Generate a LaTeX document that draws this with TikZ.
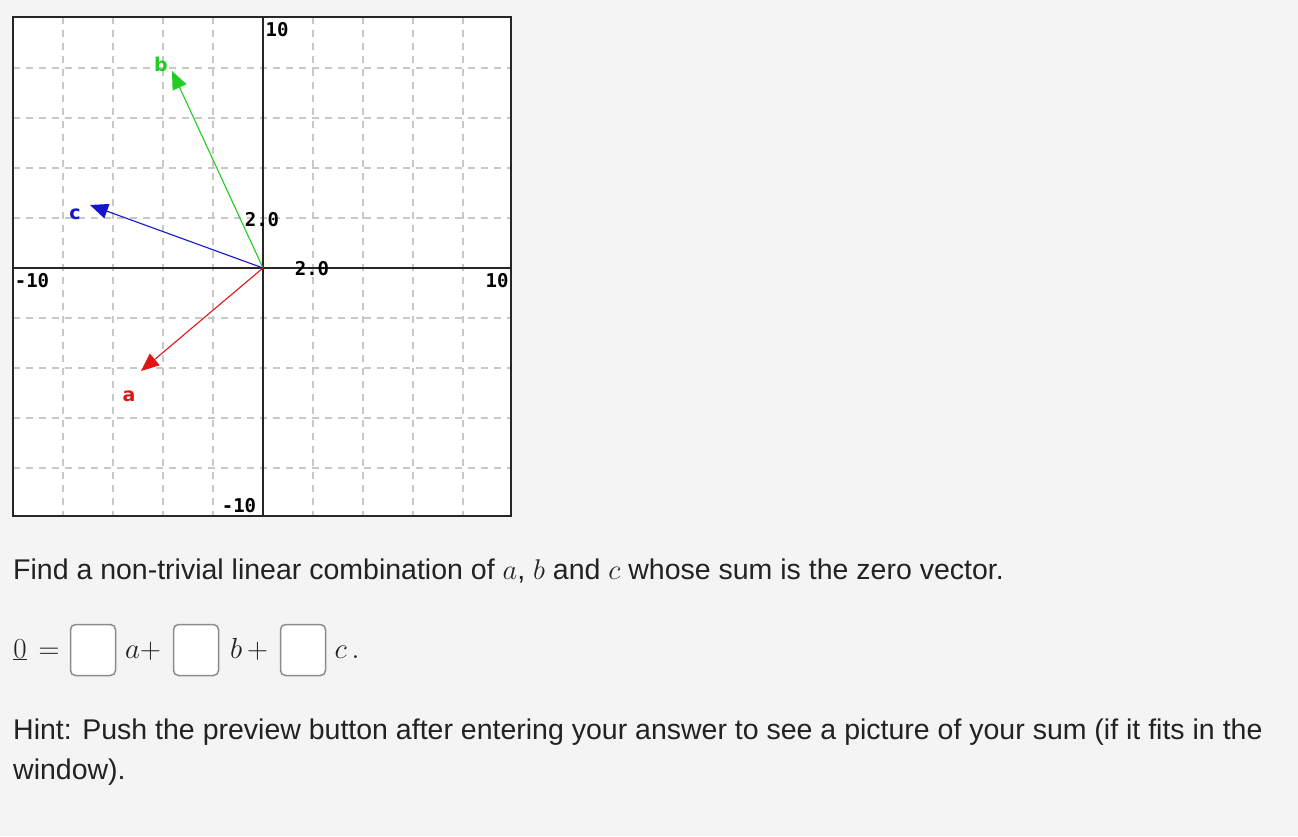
\RequirePackage{fix-cm}
\documentclass[tikz,border=0pt]{standalone}
\usepackage[no-math]{fontspec}
\setmainfont{Liberation Sans}
\newfontfamily\plotfont{DejaVu Sans Mono}
\newfontfamily\labfont{DejaVu Sans}
\usetikzlibrary{arrows.meta}
\definecolor{bgcol}{HTML}{F4F4F4}
\definecolor{gridcol}{HTML}{C8C8C8}
\definecolor{txtcol}{HTML}{222222}
\definecolor{vecgreen}{HTML}{22CC22}
\definecolor{vecblue}{HTML}{1515D0}
\definecolor{vecred}{HTML}{E01515}
\tikzset{
  gridline/.style={draw=gridcol, line width=1.6pt, dash pattern=on 7pt off 6pt},
  axisline/.style={draw=black!85, line width=1.6pt},
  vec/.style={line width=1.1pt, -{Triangle[length=18pt,width=15pt]}},
  ticklab/.style={font=\plotfont\bfseries\fontsize{19}{19}\selectfont, inner sep=0pt},
  veclab/.style={font=\labfont\bfseries\fontsize{19}{19}\selectfont, inner sep=0pt},
  bodytext/.style={font=\fontsize{28.5}{34}\selectfont, text=txtcol, inner sep=0pt, anchor=base west},
  mathtext/.style={font=\fontsize{29}{34}\selectfont, text=txtcol, inner sep=0pt, anchor=base},
  ansbox/.style={draw=black!45, line width=1.5pt, rounded corners=5pt, fill=white, minimum width=45pt, minimum height=51pt, inner sep=0pt}
}
\begin{document}
\begin{tikzpicture}[x=1pt,y=-1pt]
\fill[bgcol] (0,0) rectangle (1298,836);
\useasboundingbox (0,0) rectangle (1298,836);
% plot area
\fill[white] (13,17) rectangle (511,516);
\foreach \x in {63,113,163,213,313,363,413,463}
  \draw[gridline] (\x,17) -- (\x,516);
\foreach \y in {68,118,168,218,318,368,418,468}
  \draw[gridline] (13,\y) -- (511,\y);
\draw[axisline] (263,17) -- (263,516);
\draw[axisline] (13,268) -- (511,268);
\draw[black!85, line width=1.6pt] (13,17) rectangle (511,516);
% tick labels
\node[ticklab] (ytop) at (277,30) {10};
\node[ticklab] (ytwo) at (262,220) {2.0};
\node[ticklab] (xtwo) at (312,269) {2.0};
\node[ticklab] (xleft) at (32,281) {-10};
\node[ticklab] (xright) at (497,281) {10};
\node[ticklab] (ybot) at (239,506) {-10};
% vectors
\coordinate (o) at (263,268);
\coordinate (btip) at (172,71);
\coordinate (ctip) at (90,205);
\coordinate (atip) at (141,371);
\draw[vec, vecgreen] (o) -- (btip);
\draw[vec, vecblue] (o) -- (ctip);
\draw[vec, vecred] (o) -- (atip);
\node[veclab, text=vecgreen] (blab) at (161,64) {b};
\node[veclab, text=vecblue] (clab) at (75,214) {c};
\node[veclab, text=vecred] (alab) at (129,396) {a};
% text
\node[bodytext] (q) at (13,579) {Find a non-trivial linear combination of $a$, $b$ and $c$ whose sum is the zero vector.};
\node[mathtext] (zero) at (20,658) {$\underline{\mathrm{0}}$};
\node[mathtext] (eq) at (49,658) {$=$};
\node[ansbox] (box1) at (93,650) {};
\node[ansbox] (box2) at (196,650) {};
\node[ansbox] (box3) at (303,650) {};
\node[mathtext] (ta) at (143,658) {$a{+}$};
\node[mathtext] (tb) at (249,658) {$b\,{+}$};
\node[mathtext] (tc) at (347,658) {$c\,.$};
\node[bodytext] (h1) at (13,739) {Hint: Push the preview button after entering your answer to see a picture of your sum (if it fits in the};
\node[bodytext] (h2) at (13,779) {window).};
\end{tikzpicture}
\end{document}
